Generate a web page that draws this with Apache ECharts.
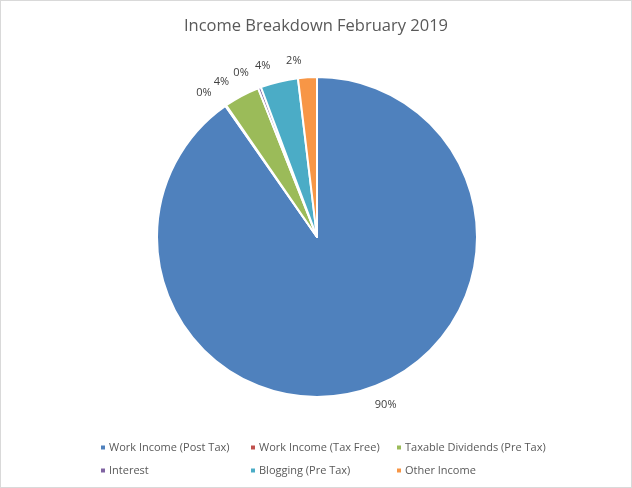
<!DOCTYPE html>
<html>
<head>
<meta charset="utf-8">
<script src="https://cdn.jsdelivr.net/npm/echarts@6/dist/echarts.min.js"></script>
<style>
html,body{margin:0;padding:0;background:#fff;}
#chart{position:absolute;left:0;top:0;width:630px;height:486px;border:1px solid #d9d9d9;}
</style>
</head>
<body>
<div id="chart"></div>
<script>
const categories = ['Work Income (Post Tax)', 'Work Income (Tax Free)', 'Taxable Dividends (Pre Tax)', 'Interest', 'Blogging (Pre Tax)', 'Other Income'];
const values = [9030, 10, 360, 30, 380, 190];
const colors = ['#4F81BD', '#C0504D', '#9BBB59', '#8064A2', '#4BACC6', '#F79646'];
const titleText = 'Income Breakdown February 2019';

const chart = echarts.init(document.getElementById('chart'));
const font = 'Open Sans';
const legendBase = {
  orient: 'vertical',
  top: 436,
  itemWidth: 6,
  itemHeight: 6,
  itemGap: 12,
  icon: 'rect',
  textStyle: { color: '#595959', fontSize: 11, fontFamily: font, padding: [0, 0, 0, -2] },
  selectedMode: false
};
chart.setOption({
  animation: false,
  color: colors,
  title: {
    text: titleText,
    left: 'center',
    top: 12,
    textStyle: { color: '#595959', fontSize: 16.5, fontWeight: 'normal', fontFamily: font }
  },
  legend: [
    Object.assign({}, legendBase, { left: 93, data: [categories[0], categories[3]] }),
    Object.assign({}, legendBase, { left: 243, data: [categories[1], categories[4]] }),
    Object.assign({}, legendBase, { left: 389, data: [categories[2], categories[5]] })
  ],
  series: [{
    type: 'pie',
    center: [316, 236],
    radius: 160,
    startAngle: 90,
    clockwise: true,
    avoidLabelOverlap: false,
    itemStyle: { borderColor: '#fff', borderWidth: 2 },
    label: {
      show: true,
      position: 'outside',
      formatter: p => Math.round(p.percent) + '%',
      color: '#404040',
      fontSize: 11,
      fontFamily: font
    },
    labelLine: { show: false, length: 16, length2: 0 },
    emphasis: { disabled: true },
    data: categories.map((c, i) => ({ name: c, value: values[i] }))
  }]
});
</script>
</body>
</html>
